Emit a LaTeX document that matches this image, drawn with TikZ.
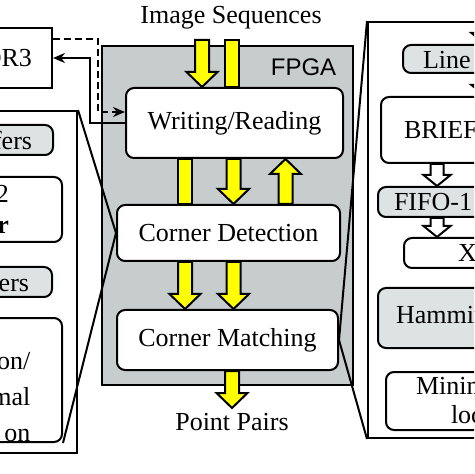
\documentclass[tikz,border=0pt]{standalone}
\usepackage{fontspec}
\setmainfont{Liberation Serif}
\newfontfamily\sansfpga{Liberation Sans}
\usetikzlibrary{calc,arrows.meta}

\definecolor{grigiofpga}{RGB}{199,204,204}
\definecolor{grigiochiaro}{RGB}{221,227,227}
\definecolor{giallo}{RGB}{255,255,0}

\tikzset{
    blocco/.style={draw, line width=1pt, rounded corners=4pt, fill=white, inner ysep=1pt},
    buffer/.style={blocco, fill=grigiochiaro},
    pannello/.style={draw, line width=1pt, fill=white},
    tratteggio/.style={dash pattern=on 3.5pt off 2pt}
}

% freccia gialla piena: #1 = x, #2 = partenza, #3 = arrivo
\newcommand{\frecciagialla}[3]{%
    \path (#2 -| #1,0) coordinate (fa) (#3 -| #1,0) coordinate (fb);
    \filldraw[fill=giallo, line width=1pt]
        ($(fa)+(-7,0)$) -- ($(fb)!7.5pt!(fa)+(-7,0)$) -- ($(fb)!7.5pt!(fa)+(-15.5,0)$)
        -- (fb) -- ($(fb)!7.5pt!(fa)+(15.5,0)$) -- ($(fb)!7.5pt!(fa)+(7,0)$)
        -- ($(fa)+(7,0)$) -- cycle;
}
% barra gialla senza punta
\newcommand{\barragialla}[3]{%
    \path (#2 -| #1,0) coordinate (fa) (#3 -| #1,0) coordinate (fb);
    \filldraw[fill=giallo, line width=1pt] ($(fa)+(-7,0)$) rectangle ($(fb)+(7,0)$);
}
% freccia vuota
\newcommand{\frecciavuota}[3]{%
    \path (#2 -| #1,0) coordinate (fa) (#3 -| #1,0) coordinate (fb);
    \filldraw[fill=white, line width=1pt]
        ($(fa)+(-6.5,0)$) -- ($(fb)!5.5pt!(fa)+(-6.5,0)$) -- ($(fb)!5.5pt!(fa)+(-13.5,0)$)
        -- (fb) -- ($(fb)!5.5pt!(fa)+(13.5,0)$) -- ($(fb)!5.5pt!(fa)+(6.5,0)$)
        -- ($(fa)+(6.5,0)$) -- cycle;
}

\begin{document}
\begin{tikzpicture}[x=0.5pt, y=-0.5pt, line width=1pt, font=\fontsize{13}{15.5}\selectfont]
    \useasboundingbox (0,0) rectangle (474,474);
    \clip (0,0) rectangle (474,474);

    %%%%%%%%%% Pannelli %%%%%%%%%%
    \node[pannello, anchor=north east, minimum width=100pt, minimum height=171pt] (lp) at (78,110) {};
    \node[pannello, anchor=north west, minimum width=120pt, minimum height=208pt] (rp) at (367,21) {};

    %%%%%%%%%% FPGA %%%%%%%%%%
    \node[draw, fill=grigiofpga, minimum width=125.5pt, minimum height=169.5pt] (fpga) at (227.5,215.5) {};
    \node[font=\sansfpga\fontsize{12}{14}\selectfont] (fpgalbl) at (303.5,67) {FPGA};

    \node[blocco, minimum width=108.5pt, minimum height=35pt] (wr) at (234.5,123) {Writing/Reading};
    \node[blocco, minimum width=111.5pt, minimum height=28pt] (cd) at (228.5,233) {Corner Detection};
    \node[blocco, minimum width=110.5pt, minimum height=30pt] (cm) at (227.5,340) {Corner Matching};

    \node (imgseq) at (231,18) {Image Sequences};
    \node (pp) at (232,422) {Point Pairs};
    \coordinate (cin) at (231,40);
    \coordinate (cout) at (232,408);

    \node[pannello, anchor=east, minimum width=54pt, minimum height=30pt] (ddr) at (53,58) {DDR3};

    %%%%%%%%%% Dettaglio sinistro %%%%%%%%%%
    \node[buffer, anchor=east, text width=100pt, align=right, inner xsep=10.5pt, minimum height=15pt] (lb1) at (54,140) {Line Buffers};
    \node[blocco, anchor=east, text width=100pt, align=right, inner xsep=26.5pt, minimum height=32.5pt] (det) at (63,209.5) {2\\\textbf{r}\hspace{2pt}};
    \node[buffer, anchor=east, text width=100pt, align=right, inner xsep=11.5pt, minimum height=15pt] (lb2) at (53,282) {Line Buffers};
    \node[blocco, anchor=east, minimum width=100pt, minimum height=62pt] (sup) at (63,380) {};
    \node[anchor=east, align=right, font=\fontsize{13}{18}\selectfont] (suptxt) at (38,397) {on/\hspace{4pt}\\mal\\on\hspace{5.5pt}};

    %%%%%%%%%% Dettaglio destro %%%%%%%%%%
    \node[buffer, anchor=west, text width=100pt, align=left, inner xsep=10pt, minimum height=14pt] (lbr) at (402,59) {Line Buffers};
    \node[blocco, anchor=west, text width=100pt, align=left, inner xsep=11.5pt, minimum height=33pt] (brief) at (380,130) {BRIEF};
    \node[buffer, anchor=west, text width=100pt, align=left, inner xsep=8pt, minimum height=15pt] (fifo) at (377,202) {FIFO-1};
    \node[blocco, anchor=west, text width=100pt, align=left, inner xsep=27pt, minimum height=15pt] (xor) at (403,253) {X};
    \node[buffer, anchor=west, text width=100pt, align=left, inner xsep=9pt, minimum height=30pt] (ham) at (377,318) {Hamming};
    \node[blocco, anchor=west, text width=100pt, align=left, inner xsep=15pt, minimum height=29pt, font=\fontsize{13}{14.5}\selectfont] (mini) at (385,401) {Minimum\\\hspace*{17.5pt}location};

    %%%%%%%%% Frecce %%%%%%%%%
    \frecciagialla{202}{cin}{wr.north}
    \barragialla{232}{cin}{wr.north}
    \barragialla{185}{wr.south}{cd.north}
    \frecciagialla{233.5}{wr.south}{cd.north}
    \frecciagialla{285.5}{cd.north}{wr.south}
    \foreach \x in {185,233.5}
        {\frecciagialla{\x}{cd.south}{cm.north}}
    \frecciagialla{232}{cm.south}{cout}

    \frecciavuota{437}{brief.south}{fifo.north}
    \frecciavuota{437}{fifo.south}{xor.north}
    \frecciavuota{485}{rp.north}{lbr.north}
    \frecciavuota{485}{lbr.south}{brief.north}

    \draw[->,>={Stealth[length=6pt,width=5pt]}] (wr.west) -| ($(ddr.east)+(37,0)$) -- (ddr.east);
    \draw[tratteggio,->,>={Stealth[length=6pt,width=5pt]}] ($(ddr.east)+(0,-19)$) -| ($(wr.west)+(-27,-11)$) -- ($(wr.west)+(0,-11)$);

    %%%%%%%%% Linee di ingrandimento %%%%%%%%%
    \draw (cd.west) -- (lp.north east);
    \draw (cd.west) -- (sup.south east);
    \draw (cm.east) -- (rp.north west);
    \draw (cm.east) -- (rp.south west);
\end{tikzpicture}
\end{document}
